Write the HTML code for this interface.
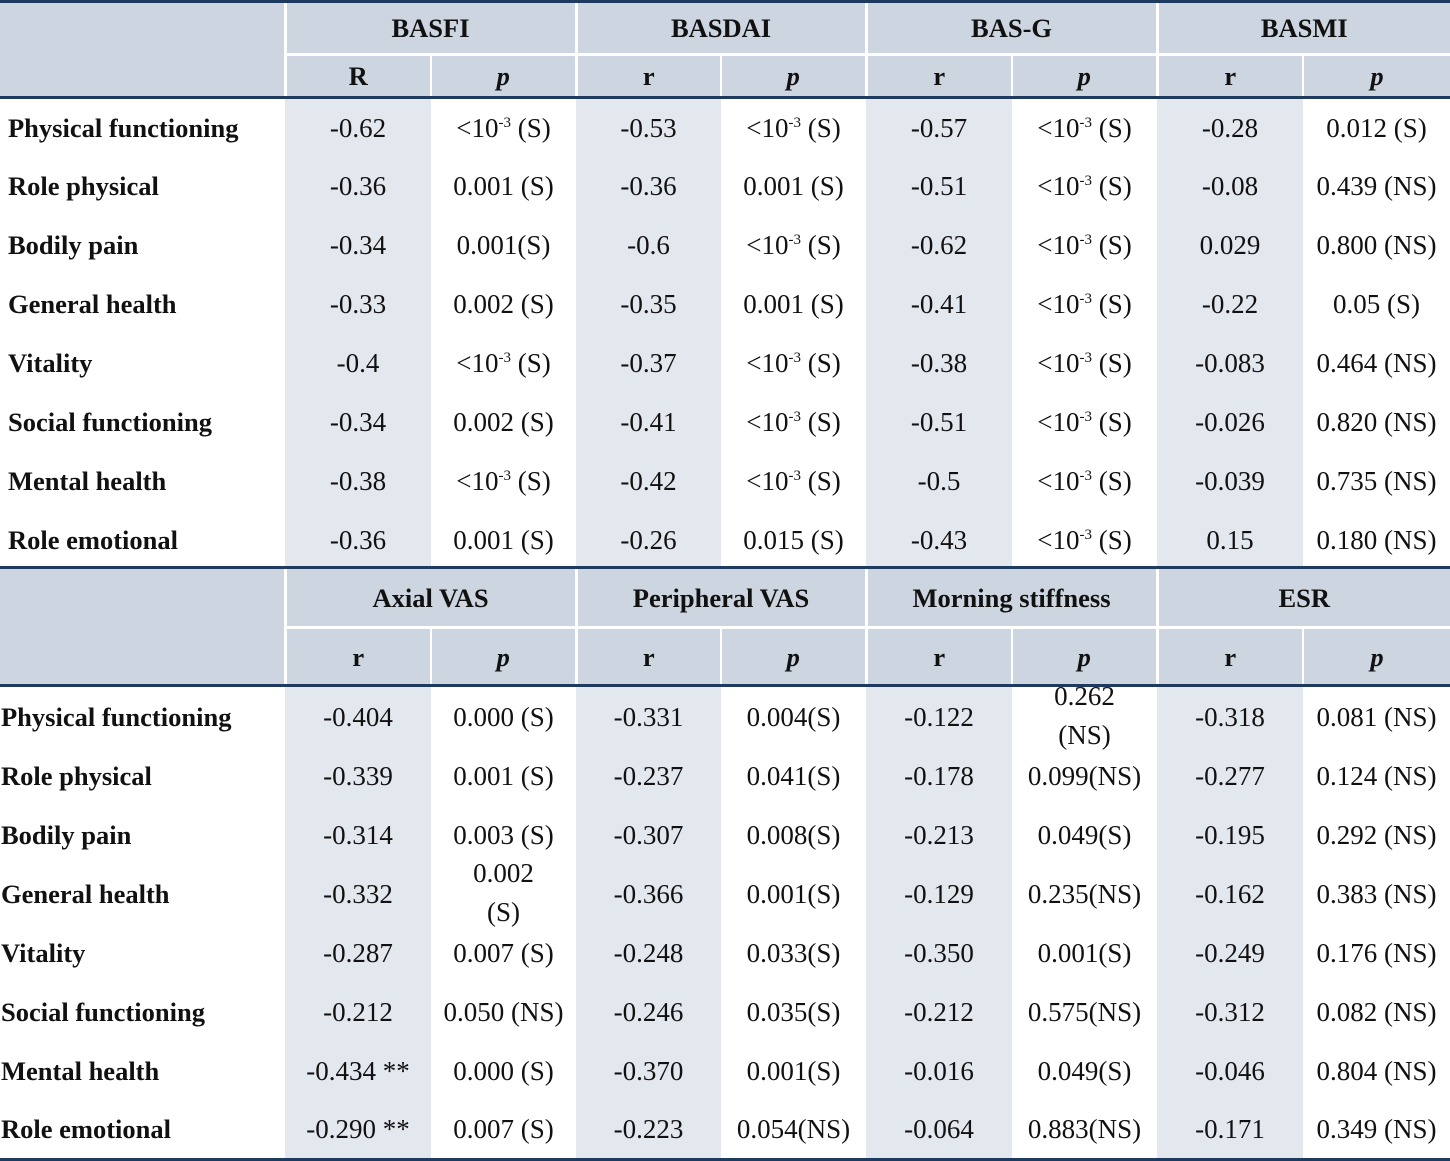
<!DOCTYPE html>
<html><head><meta charset="utf-8">
<style>
html,body{margin:0;padding:0;background:#fff;width:1450px;height:1159px;overflow:hidden}
table{position:absolute;left:0;border-collapse:collapse;table-layout:fixed;width:1450px;font-family:"Liberation Serif",serif;font-size:27px;color:#111}
td{padding:0;text-align:center;vertical-align:middle;line-height:38px;white-space:nowrap}
.h td{background:#ccd5e0;font-weight:bold;font-size:26.5px}
.h1 td{border-left:3px solid #fff}
.h1 td:first-child{border-left:none}
.h2 td{border-left:3px solid #fff;border-top:3px solid #fff}
.h2 td.in{border-left:2px solid #fff}
.top{border-top:3px solid #1f3a5f}
.sep td{border-bottom:3px solid #1f3a5f}
.d td:nth-child(2n){background:#e3e7ee}
.d td.l{text-align:left;font-weight:bold;padding-left:8px;font-size:26.5px}
.b .d td.l{padding-left:1px}
.d{height:59px}
sup{font-size:15px;vertical-align:10px;line-height:0}
i{font-weight:bold}
.last td{border-bottom:3px solid #1f3a5f}
.w{height:59px;position:relative}
.w span{position:absolute;left:0;right:0;top:-10px;line-height:39px}
</style></head><body>
<table style="top:0">
<colgroup><col style="width:285px"><col style="width:146px"><col style="width:145px"><col style="width:145px"><col style="width:145px"><col style="width:146px"><col style="width:145px"><col style="width:146px"><col style="width:147px"></colgroup>
<tr class="h h1" style="height:53px"><td class="top" rowspan="2" style="border-bottom:3px solid #1f3a5f"></td><td class="top" colspan="2">BASFI</td><td class="top" colspan="2">BASDAI</td><td class="top" colspan="2">BAS-G</td><td class="top" colspan="2">BASMI</td></tr>
<tr class="h h2 sep" style="height:43px"><td class="g">R</td><td class="in"><i>p</i></td><td class="g">r</td><td class="in"><i>p</i></td><td class="g">r</td><td class="in"><i>p</i></td><td class="g">r</td><td class="in"><i>p</i></td></tr>
<tr class="d"><td class="l">Physical functioning</td><td>-0.62</td><td>&lt;10<sup>-3</sup> (S)</td><td>-0.53</td><td>&lt;10<sup>-3</sup> (S)</td><td>-0.57</td><td>&lt;10<sup>-3</sup> (S)</td><td>-0.28</td><td>0.012 (S)</td></tr>
<tr class="d"><td class="l">Role physical</td><td>-0.36</td><td>0.001 (S)</td><td>-0.36</td><td>0.001 (S)</td><td>-0.51</td><td>&lt;10<sup>-3</sup> (S)</td><td>-0.08</td><td>0.439 (NS)</td></tr>
<tr class="d"><td class="l">Bodily pain</td><td>-0.34</td><td>0.001(S)</td><td>-0.6</td><td>&lt;10<sup>-3</sup> (S)</td><td>-0.62</td><td>&lt;10<sup>-3</sup> (S)</td><td>0.029</td><td>0.800 (NS)</td></tr>
<tr class="d"><td class="l">General health</td><td>-0.33</td><td>0.002 (S)</td><td>-0.35</td><td>0.001 (S)</td><td>-0.41</td><td>&lt;10<sup>-3</sup> (S)</td><td>-0.22</td><td>0.05 (S)</td></tr>
<tr class="d"><td class="l">Vitality</td><td>-0.4</td><td>&lt;10<sup>-3</sup> (S)</td><td>-0.37</td><td>&lt;10<sup>-3</sup> (S)</td><td>-0.38</td><td>&lt;10<sup>-3</sup> (S)</td><td>-0.083</td><td>0.464 (NS)</td></tr>
<tr class="d"><td class="l">Social functioning</td><td>-0.34</td><td>0.002 (S)</td><td>-0.41</td><td>&lt;10<sup>-3</sup> (S)</td><td>-0.51</td><td>&lt;10<sup>-3</sup> (S)</td><td>-0.026</td><td>0.820 (NS)</td></tr>
<tr class="d"><td class="l">Mental health</td><td>-0.38</td><td>&lt;10<sup>-3</sup> (S)</td><td>-0.42</td><td>&lt;10<sup>-3</sup> (S)</td><td>-0.5</td><td>&lt;10<sup>-3</sup> (S)</td><td>-0.039</td><td>0.735 (NS)</td></tr>
<tr class="d"><td class="l">Role emotional</td><td>-0.36</td><td>0.001 (S)</td><td>-0.26</td><td>0.015 (S)</td><td>-0.43</td><td>&lt;10<sup>-3</sup> (S)</td><td>0.15</td><td>0.180 (NS)</td></tr>
</table>
<table class="b" style="top:566px">
<colgroup><col style="width:285px"><col style="width:146px"><col style="width:145px"><col style="width:145px"><col style="width:145px"><col style="width:146px"><col style="width:145px"><col style="width:146px"><col style="width:147px"></colgroup>
<tr class="h h1" style="height:60px"><td class="top" rowspan="2" style="border-bottom:3px solid #1f3a5f"></td><td class="top" colspan="2">Axial VAS</td><td class="top" colspan="2">Peripheral VAS</td><td class="top" colspan="2">Morning stiffness</td><td class="top" colspan="2">ESR</td></tr>
<tr class="h h2 sep" style="height:58px"><td class="g">r</td><td class="in"><i>p</i></td><td class="g">r</td><td class="in"><i>p</i></td><td class="g">r</td><td class="in"><i>p</i></td><td class="g">r</td><td class="in"><i>p</i></td></tr>
<tr class="d"><td class="l">Physical functioning</td><td>-0.404</td><td>0.000 (S)</td><td>-0.331</td><td>0.004(S)</td><td>-0.122</td><td><div class="w"><span>0.262<br>(NS)</span></div></td><td>-0.318</td><td>0.081 (NS)</td></tr>
<tr class="d"><td class="l">Role physical</td><td>-0.339</td><td>0.001 (S)</td><td>-0.237</td><td>0.041(S)</td><td>-0.178</td><td>0.099(NS)</td><td>-0.277</td><td>0.124 (NS)</td></tr>
<tr class="d"><td class="l">Bodily pain</td><td>-0.314</td><td>0.003 (S)</td><td>-0.307</td><td>0.008(S)</td><td>-0.213</td><td>0.049(S)</td><td>-0.195</td><td>0.292 (NS)</td></tr>
<tr class="d"><td class="l">General health</td><td>-0.332</td><td><div class="w"><span>0.002<br>(S)</span></div></td><td>-0.366</td><td>0.001(S)</td><td>-0.129</td><td>0.235(NS)</td><td>-0.162</td><td>0.383 (NS)</td></tr>
<tr class="d"><td class="l">Vitality</td><td>-0.287</td><td>0.007 (S)</td><td>-0.248</td><td>0.033(S)</td><td>-0.350</td><td>0.001(S)</td><td>-0.249</td><td>0.176 (NS)</td></tr>
<tr class="d"><td class="l">Social functioning</td><td>-0.212</td><td>0.050 (NS)</td><td>-0.246</td><td>0.035(S)</td><td>-0.212</td><td>0.575(NS)</td><td>-0.312</td><td>0.082 (NS)</td></tr>
<tr class="d"><td class="l">Mental health</td><td>-0.434 **</td><td>0.000 (S)</td><td>-0.370</td><td>0.001(S)</td><td>-0.016</td><td>0.049(S)</td><td>-0.046</td><td>0.804 (NS)</td></tr>
<tr class="d last"><td class="l">Role emotional</td><td>-0.290 **</td><td>0.007 (S)</td><td>-0.223</td><td>0.054(NS)</td><td>-0.064</td><td>0.883(NS)</td><td>-0.171</td><td>0.349 (NS)</td></tr>
</table>
</body></html>
